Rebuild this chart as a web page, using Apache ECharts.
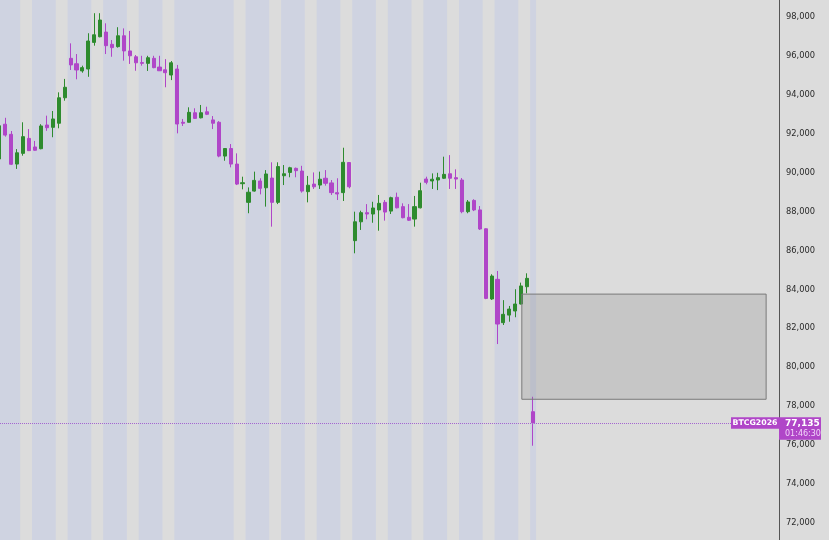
<!DOCTYPE html>
<html><head><meta charset="utf-8">
<script src="https://cdn.jsdelivr.net/npm/echarts@6/dist/echarts.min.js"></script>
<style>html,body{margin:0;padding:0;background:#dcdcdc}#c{width:829px;height:540px}</style>
</head><body><div id="c"></div>
<script>
// ---- data ----
const opens  = [90710,92500,91980,90450,91000,91770,91330,91240,92460,92340,92550,93860,95890,95610,95240,95340,96710,97000,97240,96610,96490,97050,96270,95970,95670,95630,95890,95440,95300,95030,95340,92600,92600,93090,92830,93140,92720,92600,90860,91250,90450,89440,88480,89060,89580,89230,89730,88480,89850,90020,90230,90090,89030,89420,89370,89720,89480,88980,88980,90530,86510,87480,87950,87880,88090,88480,88030,88740,88260,87710,87620,88200,89680,89580,89630,89720,89950,89750,89630,88000,88580,88090,87120,83510,84520,82290,82680,82890,83250,84140,77710];
const closes = [92420,91940,90440,91030,91860,91140,91160,92410,92320,92770,93860,94400,95550,95290,95410,96780,97100,97860,96540,96440,97050,96270,96020,95660,95630,95920,95410,95250,95150,95660,92510,92550,93110,92800,93090,93010,92550,90860,91250,90450,89420,89490,89000,89610,89200,89940,88480,90320,89950,90260,90110,89060,89360,89280,89670,89460,88980,88910,90540,89280,87480,87950,87880,88190,88430,87980,88720,88200,87690,87560,88260,89080,89510,89670,89750,89920,89720,89680,88000,88500,88090,87110,83540,84690,82220,82720,82990,83250,84180,84570,77135];
const lows   = [90600,91860,90400,90200,90880,91120,91140,91210,92160,91830,92290,93710,95290,94810,95150,94940,96540,96970,96110,95970,96440,95770,95600,95250,95510,95240,95380,95240,94400,94770,92030,92410,92590,92770,92800,92970,92250,90800,90620,90280,89370,89150,87920,89030,88890,88260,87230,88390,89370,89770,89770,88980,88480,89170,89170,89340,88860,88600,88550,89200,85860,87060,87610,87430,87020,87540,87880,88170,87660,87520,87230,88170,89410,89170,89110,89680,89170,89170,87920,87920,88030,87060,83500,83460,81190,82170,82340,82570,83230,83800,75960];
const highs  = [92560,92830,92150,91220,92600,92250,91640,92500,92940,93180,94140,94830,96660,96110,95510,97180,98210,98210,97690,96830,97490,97430,97300,96060,96020,96020,96020,96020,95850,95750,95550,92770,93370,93320,93490,93400,92920,92660,91260,91480,91000,89800,89250,90060,89720,90140,90540,90540,90400,90310,90270,90360,89840,90020,90060,90140,89630,89720,91290,90540,88000,88050,88390,88510,88860,88600,88770,88980,88430,88390,88810,89490,89800,89970,90000,90830,90910,90180,89730,88600,88640,88290,87140,84780,84950,83450,83150,84010,84350,84830,78480];
// candle index ranges that sit in the blue (session) bands
const blueBands = [[0,3],[6,9],[12,15],[18,21],[24,27],[30,39],[42,45],[48,51],[54,57],[60,63],[66,69],[72,75],[78,81],[84,87],[90,90]];
// grey zone box: candle index from/to, price low/high
const zoneFrom = 88.1, zoneTo = 129.3, zoneLow = 78350, zoneHigh = 83760;
const lastPrice = 77135;
const symbolName = 'BTCG2026';
const countdown = '01:46:30';
const yTicks = [72000, 74000, 76000, 78000, 80000, 82000, 84000, 86000, 88000, 90000, 92000, 94000, 96000, 98000];
const yMin = 71110, yMax = 98890;

// ---- chart ----
const chart = echarts.init(document.getElementById('c'), null, {renderer: 'canvas'});
const candles = opens.map((o, i) => [i, o, closes[i], lows[i], highs[i]]);
const UP = '#2e8b2e', DOWN = '#b046c8';
const fmt = v => Number(v).toLocaleString('en-US');
const FONT = '"DejaVu Sans", sans-serif';

chart.setOption({
  animation: false,
  backgroundColor: '#dcdcdc',
  grid: {left: 0, right: 50, top: 0, bottom: 0, containLabel: false, outerBoundsMode: 'none'},
  xAxis: {type: 'value', min: 0.1, max: 131.47, show: false, splitLine: {show: false}},
  yAxis: {
    type: 'value', position: 'right', min: yMin, max: yMax,
    axisLine: {show: true, lineStyle: {color: '#555', width: 1}},
    axisTick: {show: false}, splitLine: {show: false},
    axisLabel: {customValues: yTicks, formatter: fmt, color: '#2a2a2a', fontSize: 8.3, fontFamily: FONT, margin: 7}
  },
  series: [
    {
      type: 'line', data: [], silent: true,
      markArea: {silent: true, z: 1, itemStyle: {color: '#cfd3e1'},
        data: blueBands.map(([a, b]) => [{xAxis: a - 0.5}, {xAxis: b + 0.5}])}
    },
    {
      type: 'candlestick', data: candles, encode: {x: 0, y: [1, 2, 3, 4]},
      barWidth: 3.6, z: 3,
      itemStyle: {color: UP, color0: DOWN, borderColor: UP, borderColor0: DOWN, borderWidth: 1},
      markLine: {silent: true, symbol: ['none', 'none'], label: {show: false},
        lineStyle: {type: 'dotted', color: '#a466d0', width: 1},
        data: [{yAxis: lastPrice}]}
    },
    {
      type: 'line', data: [], silent: true, z: 4,
      markArea: {silent: true, z: 4,
        itemStyle: {color: 'rgba(128,128,128,0.24)', borderColor: '#7a7a7a', borderWidth: 1},
        data: [[{xAxis: zoneFrom, yAxis: zoneHigh}, {xAxis: zoneTo, yAxis: zoneLow}]]}
    }
  ]
});

const yPix = chart.convertToPixel({yAxisIndex: 0}, lastPrice);
const axisX = chart.getWidth() - 50;
chart.setOption({graphic: [
  {type: 'rect', z: 100, shape: {x: axisX - 48, y: yPix - 5.7, width: 48, height: 11.5}, style: {fill: '#b046c8'}},
  {type: 'text', z: 101, style: {text: symbolName, x: axisX - 24, y: yPix + 0.3, align: 'center', verticalAlign: 'middle', fill: '#ffffff', font: 'bold 7.8px ' + FONT}},
  {type: 'rect', z: 100, shape: {x: axisX, y: yPix - 5.7, width: 42, height: 22.5}, style: {fill: '#b046c8'}},
  {type: 'text', z: 101, style: {text: fmt(lastPrice), x: axisX + 6, y: yPix + 0.3, align: 'left', verticalAlign: 'middle', fill: '#ffffff', font: 'bold 9px ' + FONT}},
  {type: 'text', z: 101, style: {text: countdown, x: axisX + 6, y: yPix + 11, align: 'left', verticalAlign: 'middle', fill: '#f2d4f8', font: '8px ' + FONT}}
]});
</script>
</body></html>
